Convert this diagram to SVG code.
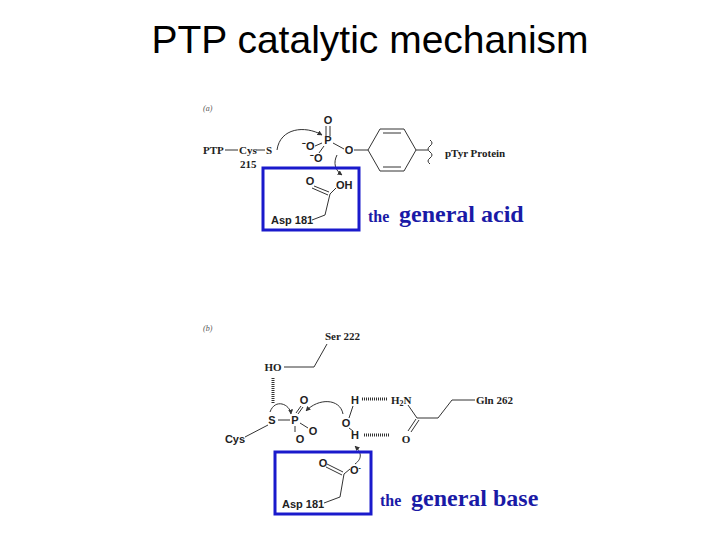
<svg xmlns="http://www.w3.org/2000/svg" width="720" height="540" viewBox="0 0 720 540">
<defs>
<marker id="ah" viewBox="0 0 10 10" refX="9" refY="5" markerWidth="5" markerHeight="5" orient="auto"><path d="M0,0 L10,5 L0,10 z" fill="#333"/></marker>
<style>
.t{font-family:"Liberation Serif",serif;font-weight:bold;font-size:11px;fill:#222}
.s{font-family:"Liberation Sans",sans-serif;font-weight:bold;font-size:11px;fill:#222}
.b{stroke:#333;stroke-width:1;fill:none}
.box{fill:none;stroke:#1a1acc;stroke-width:3}
.lab{font-family:"Liberation Serif",serif;font-weight:bold;fill:#1a1aa6}
.arr{stroke:#333;stroke-width:1;fill:none;marker-end:url(#ah)}
.h{stroke:#333;stroke-width:3;stroke-dasharray:1 1;fill:none}
</style>
</defs>
<rect width="720" height="540" fill="#fff"/>
<text x="370" y="53" text-anchor="middle" font-family="Liberation Sans,sans-serif" font-size="39" fill="#000">PTP catalytic mechanism</text>

<g id="panelA">
<text x="203" y="111" font-family="Liberation Serif,serif" font-style="italic" font-size="8" fill="#555">(a)</text>
<text x="203" y="154" class="t">PTP</text>
<path class="b" d="M225,150 H238 M256,150 H265"/>
<text x="239" y="154" class="t">Cys</text>
<text x="266" y="154" class="t">S</text>
<text x="240" y="168" class="t">215</text>
<path class="arr" d="M277,150 C280,128 305,125 322,135"/>
<text x="328" y="124" class="s" text-anchor="middle">O</text>
<path class="b" d="M326,126 V136 M330,126 V136"/>
<text x="328" y="144" class="s" text-anchor="middle">P</text>
<text x="302" y="150" class="s" font-size="10">⁻O</text>
<text x="310" y="162" class="s" font-size="10">⁻O</text>
<path class="b" d="M322,143 L315,146 M324,146 L319,153 M333,143 L344,149"/>
<text x="349" y="154" class="s" text-anchor="middle">O</text>
<path class="b" d="M354,150 H368"/>
<path class="b" d="M368,150 L380,129 H404 L416,150 L404,171 H380 Z M383,133 H401 M383,167 H401"/>
<path class="b" d="M416,150 H428 M430,140 q4,3 0,6 q-4,3 0,6 q4,3 0,6 q-4,3 0,6"/>
<text x="445" y="157" class="t" font-size="12">pTyr  Protein</text>
<path class="arr" d="M337,155 C333,163 335,170 342,175"/>
</g>

<g id="boxA">
<rect class="box" x="263" y="168" width="96" height="62"/>
<text x="310" y="185" class="s" text-anchor="middle">O</text>
<text x="336" y="189" class="s">OH</text>
<path class="b" d="M312,188 L328,195 M314,186 L329,192 M330,194 L336,188 M330,194 L325,215 L312,220"/>
<text x="271" y="224" class="s" font-size="10">Asp 181</text>
</g>
<text x="368" y="222" class="lab" font-size="16">the</text>
<text x="399" y="222" class="lab" font-size="24">general acid</text>

<g id="panelB">
<text x="203" y="331" font-family="Liberation Serif,serif" font-style="italic" font-size="8" fill="#555">(b)</text>
<text x="325" y="340" class="t">Ser 222</text>
<text x="273" y="371" class="t" text-anchor="middle">HO</text>
<path class="b" d="M284,367 H314 L327,344"/>
<path class="h" d="M273,378 V403" stroke-dasharray="1 1.2"/>
<text x="272" y="424" class="s" text-anchor="middle">S</text>
<path class="b" d="M278,420 H290 M268,425 L245,437"/>
<text x="235" y="443" class="s" text-anchor="middle">Cys</text>
<text x="295" y="424" class="s" text-anchor="middle">P</text>
<text x="304" y="404" class="s" text-anchor="middle">O</text>
<path class="b" d="M296,413 L301,406 M298,414 L303,407 M300,423 L308,428 M295,426 V432"/>
<text x="313" y="435" class="s" text-anchor="middle">O</text>
<text x="300" y="443" class="s" text-anchor="middle">O</text>
<path class="arr" d="M270,412 C275,398 290,404 291,414"/>
<path class="arr" d="M343,414 C340,398 318,398 306,411"/>
<text x="355" y="404" class="s" text-anchor="middle">H</text>
<text x="346" y="427" class="s" text-anchor="middle">O</text>
<text x="355" y="439" class="s" text-anchor="middle">H</text>
<path class="b" d="M349,418 L353,406 M349,428 L353,431"/>
<path class="h" d="M362,399 H388 M364,435 H390"/>
<text x="391" y="404" class="t">H<tspan font-size="8" dy="2">2</tspan><tspan dy="-2">N</tspan></text>
<path class="b" d="M408,405 L417,418 L438,418 L452,400 H475 M416,419 L408,431 M419,420 L411,432"/>
<text x="406" y="443" class="t" text-anchor="middle">O</text>
<text x="476" y="404" class="t">Gln 262</text>
<path class="arr" d="M355,464 C363,458 361,452 355,446"/>
</g>

<g id="boxB">
<rect class="box" x="275" y="452" width="96" height="62"/>
<text x="323" y="467" class="s" text-anchor="middle">O</text>
<text x="350" y="474" class="s" font-size="10">O<tspan dy="-4" font-size="7">-</tspan></text>
<path class="b" d="M326,467 L342,475 M327,464 L343,472 M344,474 L350,469 M344,474 L340,497 L324,503"/>
<text x="282" y="508" class="s" font-size="10">Asp 181</text>
</g>
<text x="380" y="506" class="lab" font-size="16">the</text>
<text x="411" y="506" class="lab" font-size="24">general base</text>
</svg>
